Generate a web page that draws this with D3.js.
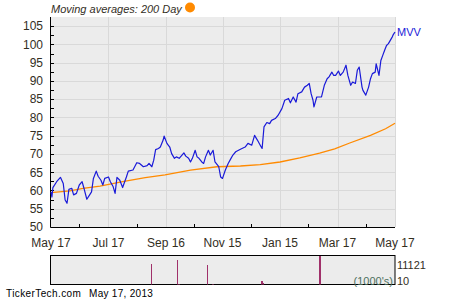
<!DOCTYPE html>
<meta charset="utf-8">
<head>
  <script src="https://d3js.org/d3.v7.min.js"></script>
  <style>
    body { margin: 0; background: #fff; }
    text { font-family: "Liberation Sans", Arial, sans-serif; }
  </style>
</head>
<body>
<div id="display"></div>
<script>
// price (MVV)
var priceDates = ["2012-05-17","2012-05-18","2012-05-19","2012-05-23","2012-05-27","2012-05-30","2012-06-01","2012-06-03","2012-06-05","2012-06-08",
  "2012-06-10","2012-06-13","2012-06-16","2012-06-19","2012-06-21","2012-06-24","2012-06-27","2012-06-29","2012-07-01","2012-07-04",
  "2012-07-06","2012-07-09","2012-07-11","2012-07-13","2012-07-17","2012-07-19","2012-07-22","2012-07-24","2012-07-26","2012-07-29",
  "2012-08-01","2012-08-05","2012-08-07","2012-08-12","2012-08-16","2012-08-19","2012-08-23","2012-08-27","2012-08-29","2012-09-01",
  "2012-09-03","2012-09-05","2012-09-08","2012-09-10","2012-09-13","2012-09-14","2012-09-17","2012-09-20","2012-09-22","2012-09-25",
  "2012-09-27","2012-09-30","2012-10-03","2012-10-05","2012-10-07","2012-10-10","2012-10-12","2012-10-14","2012-10-17","2012-10-19",
  "2012-10-21","2012-10-24","2012-10-26","2012-10-28","2012-10-31","2012-11-02","2012-11-05","2012-11-07","2012-11-11","2012-11-13",
  "2012-11-15","2012-11-18","2012-11-21","2012-11-24","2012-11-26","2012-11-29","2012-12-04","2012-12-09","2012-12-12","2012-12-16",
  "2012-12-19","2012-12-22","2012-12-25","2012-12-27","2012-12-29","2013-01-01","2013-01-04","2013-01-06","2013-01-10","2013-01-13",
  "2013-01-17","2013-01-20","2013-01-24","2013-01-26","2013-01-29","2013-02-01","2013-02-03","2013-02-07","2013-02-10","2013-02-13",
  "2013-02-15","2013-02-17","2013-02-19","2013-02-20","2013-02-23","2013-02-26","2013-02-28","2013-03-03","2013-03-06","2013-03-08",
  "2013-03-11","2013-03-13","2013-03-15","2013-03-18","2013-03-20","2013-03-23","2013-03-26","2013-03-28","2013-03-31","2013-04-02",
  "2013-04-05","2013-04-07","2013-04-09","2013-04-12","2013-04-13","2013-04-16","2013-04-19","2013-04-21","2013-04-23","2013-04-26",
  "2013-04-27","2013-04-30","2013-05-02","2013-05-04","2013-05-06","2013-05-08","2013-05-10","2013-05-12","2013-05-14","2013-05-15",
  "2013-05-17"];
var priceValues = [59.6,58.2,60.8,62.4,63.6,61.9,57.4,56.5,60.3,60.6,
  58.8,59.2,61.5,62.4,60.6,57.6,58.8,59.6,63.3,65.3,
  63.9,62.8,61.5,63.3,63.7,62.4,61.0,59.2,63.6,62.8,
  60.8,63.7,65.3,65.6,67.6,67.4,66.5,66.8,67.4,66.5,
  68.3,71.2,71.5,71.9,73.8,74.9,72.9,71.9,70.1,68.8,
  69.2,68.8,69.7,70.3,69.4,68.8,67.8,68.8,71.0,69.2,
  68.8,67.8,67.4,69.2,71.0,69.7,71.0,67.8,66.5,63.7,
  63.3,65.6,67.4,68.8,69.7,70.6,71.3,71.9,72.9,72.4,
  75.1,73.8,72.4,71.5,77.4,78.6,78.3,79.2,79.7,80.6,
  82.4,84.7,85.2,84.0,85.6,84.2,86.5,87.0,88.3,88.8,
  89.3,86.5,84.7,82.9,85.6,85.6,85.6,88.8,90.6,91.1,
  92.4,91.5,91.5,92.7,91.5,92.4,94.3,91.5,88.8,89.7,
  89.3,92.9,93.8,88.3,87.4,86.1,88.3,90.6,92.0,92.4,
  94.7,91.5,95.6,97.0,98.4,99.7,100.2,101.1,102.0,102.6,
  103.4];

// 200 day moving average
var maDates = ["2012-05-17","2012-06-06","2012-06-20","2012-07-08","2012-08-01","2012-08-25","2012-09-15","2012-10-12","2012-11-09",
  "2012-12-04","2012-12-25","2013-01-15","2013-02-05","2013-02-26","2013-03-14","2013-03-30","2013-04-21","2013-05-07","2013-05-17"];
var maValues = [59.4,59.9,60.6,61.2,62.4,63.5,64.3,65.6,66.5,66.7,67.1,67.8,68.9,70.2,71.4,73.0,75.1,76.9,78.4];

// volume (1000's)
var volDates = ["2012-08-31","2012-09-28","2012-09-29","2012-09-30","2012-10-30","2012-11-04","2012-11-05",
  "2012-12-26","2012-12-27","2012-12-28","2013-02-25","2013-02-26"];
var volValues = [11800, 14100, 600, 600, 11280, 600, 600, 2250, 2250, 900, 16350, 16350];

var yTicks = [50,55,60,65,70,75,80,85,90,95,100,105];
var xTickDates = ["2012-05-17","2012-07-17","2012-09-16","2012-11-15","2013-01-15","2013-03-17","2013-05-17"];
var xMinorDates = ["2012-06-16","2012-08-16","2012-10-16","2012-12-15","2013-02-14","2013-04-16"];
var volTicks = [10, 11121];

var parse = d3.timeParse("%Y-%m-%d");
var fmt = d3.timeFormat("%b %d");

var width = 450, height = 300;
var plot = {left: 51, right: 395, top: 17, bottom: 227};
var vol = {top: 256, bottom: 285};

var svg = d3.select("#display").append("svg")
  .attr("width", width).attr("height", height);

var x = d3.scaleTime()
  .domain([parse("2012-05-17"), parse("2013-05-17")])
  .range([plot.left, plot.right]);
var y = d3.scaleLinear().domain([50, 107.5]).range([plot.bottom, plot.top]);
var yv = d3.scaleLinear().domain([0, 16350]).range([vol.bottom, vol.top]);

var textCol = "#332e1e";

// plot background
svg.append("rect")
  .attr("x", plot.left).attr("y", plot.top)
  .attr("width", plot.right - plot.left).attr("height", plot.bottom - plot.top)
  .attr("fill", "#ececec");

// gridlines
svg.append("g").selectAll("line").data(yTicks.slice(1)).enter().append("line")
  .attr("x1", plot.left).attr("x2", plot.right)
  .attr("y1", function(d) { return Math.round(y(d)) + 0.5; })
  .attr("y2", function(d) { return Math.round(y(d)) + 0.5; })
  .attr("stroke", "#d9d9d9");
svg.append("g").selectAll("line").data(xTickDates.slice(1)).enter().append("line")
  .attr("x1", function(d) { return Math.round(x(parse(d))) + 0.5; })
  .attr("x2", function(d) { return Math.round(x(parse(d))) + 0.5; })
  .attr("y1", plot.top).attr("y2", plot.bottom)
  .attr("stroke", "#d9d9d9");

// axes lines + small inner ticks
var halfTicks = d3.range(50, 107.5, 2.5);
svg.append("g").selectAll("line").data(halfTicks).enter().append("line")
  .attr("x1", plot.left).attr("x2", plot.left + 3)
  .attr("y1", function(d) { return Math.round(y(d)) + 0.5; })
  .attr("y2", function(d) { return Math.round(y(d)) + 0.5; })
  .attr("stroke", "#000");
svg.append("g").selectAll("line").data(xMinorDates).enter().append("line")
  .attr("x1", function(d) { return Math.round(x(parse(d))) + 0.5; })
  .attr("x2", function(d) { return Math.round(x(parse(d))) + 0.5; })
  .attr("y1", plot.bottom).attr("y2", plot.bottom - 3)
  .attr("stroke", "#000");
svg.append("line")
  .attr("x1", plot.left - 0.5).attr("x2", plot.left - 0.5)
  .attr("y1", plot.top).attr("y2", plot.bottom + 0.5)
  .attr("stroke", "#000");
svg.append("line")
  .attr("x1", plot.left - 0.5).attr("x2", plot.right)
  .attr("y1", plot.bottom + 0.5).attr("y2", plot.bottom + 0.5)
  .attr("stroke", "#000");

// y labels
svg.append("g").selectAll("text").data(yTicks).enter().append("text")
  .attr("x", 43).attr("y", function(d) { return y(d); })
  .attr("dy", "0.36em")
  .attr("text-anchor", "end")
  .style("font-size", "12px").attr("fill", textCol)
  .text(function(d) { return d; });

// x labels
svg.append("g").selectAll("text").data(xTickDates).enter().append("text")
  .attr("x", function(d) { return x(parse(d)); })
  .attr("y", 243).attr("dy", "0.36em")
  .attr("text-anchor", "middle")
  .style("font-size", "12px").attr("fill", textCol)
  .text(function(d) { return fmt(parse(d)); });

// lines
var line = d3.line()
  .x(function(d) { return x(d[0]); })
  .y(function(d) { return y(d[1]); });

svg.append("path")
  .datum(maDates.map(function(d, i) { return [parse(d), maValues[i]]; }))
  .attr("fill", "none").attr("stroke", "#ff8a00").attr("stroke-width", 1.3)
  .attr("d", line);
svg.append("path")
  .datum(priceDates.map(function(d, i) { return [parse(d), priceValues[i]]; }))
  .attr("fill", "none").attr("stroke", "#1a1ad8").attr("stroke-width", 1.2)
  .attr("stroke-linejoin", "round")
  .attr("d", line);

svg.append("text")
  .attr("x", 397).attr("y", y(priceValues[priceValues.length - 1]) + 0.5)
  .attr("dy", "0.36em")
  .style("font-size", "11px").attr("fill", "#1a1ad8")
  .text("MVV");

// title + legend dot
svg.append("text")
  .attr("x", 51).attr("y", 9).attr("dy", "0.36em")
  .style("font-size", "11px").style("font-style", "italic").attr("fill", textCol)
  .text("Moving averages: 200 Day");
svg.append("circle").attr("cx", 190).attr("cy", 7.5).attr("r", 5).attr("fill", "#ff8a00");

// volume panel
svg.append("rect")
  .attr("x", plot.left - 0.5).attr("y", vol.top - 0.5)
  .attr("width", plot.right - plot.left + 0.5).attr("height", vol.bottom - vol.top)
  .attr("fill", "#ececec").attr("stroke", "#000");

svg.append("g").selectAll("rect").data(volDates).enter().append("rect")
  .attr("x", function(d) { return Math.round(x(parse(d))); })
  .attr("width", 1)
  .attr("y", function(d, i) { return Math.round(yv(volValues[i])); })
  .attr("height", function(d, i) { return vol.bottom - 0.5 - Math.round(yv(volValues[i])); })
  .attr("fill", "#a0306a");

svg.append("g").selectAll("text").data(volTicks).enter().append("text")
  .attr("x", 397)
  .attr("y", function(d) { return Math.min(yv(d), vol.bottom - 4); })
  .attr("dy", "0.36em")
  .style("font-size", "11px").attr("fill", textCol)
  .text(function(d) { return d; });

svg.append("text")
  .attr("x", 393).attr("y", 281).attr("dy", "0.36em")
  .attr("text-anchor", "end")
  .style("font-size", "11px").attr("fill", "#4d7060")
  .text("(1000's)");

// footer
svg.append("text")
  .attr("x", 6).attr("y", 293).attr("dy", "0.36em")
  .style("font-size", "10px").style("letter-spacing", "0.4px").attr("fill", "#000")
  .text("TickerTech.com");
svg.append("text")
  .attr("x", 89).attr("y", 293).attr("dy", "0.36em")
  .style("font-size", "10px").style("letter-spacing", "0.3px").attr("fill", "#000")
  .text("May 17, 2013");
</script>
</body>
